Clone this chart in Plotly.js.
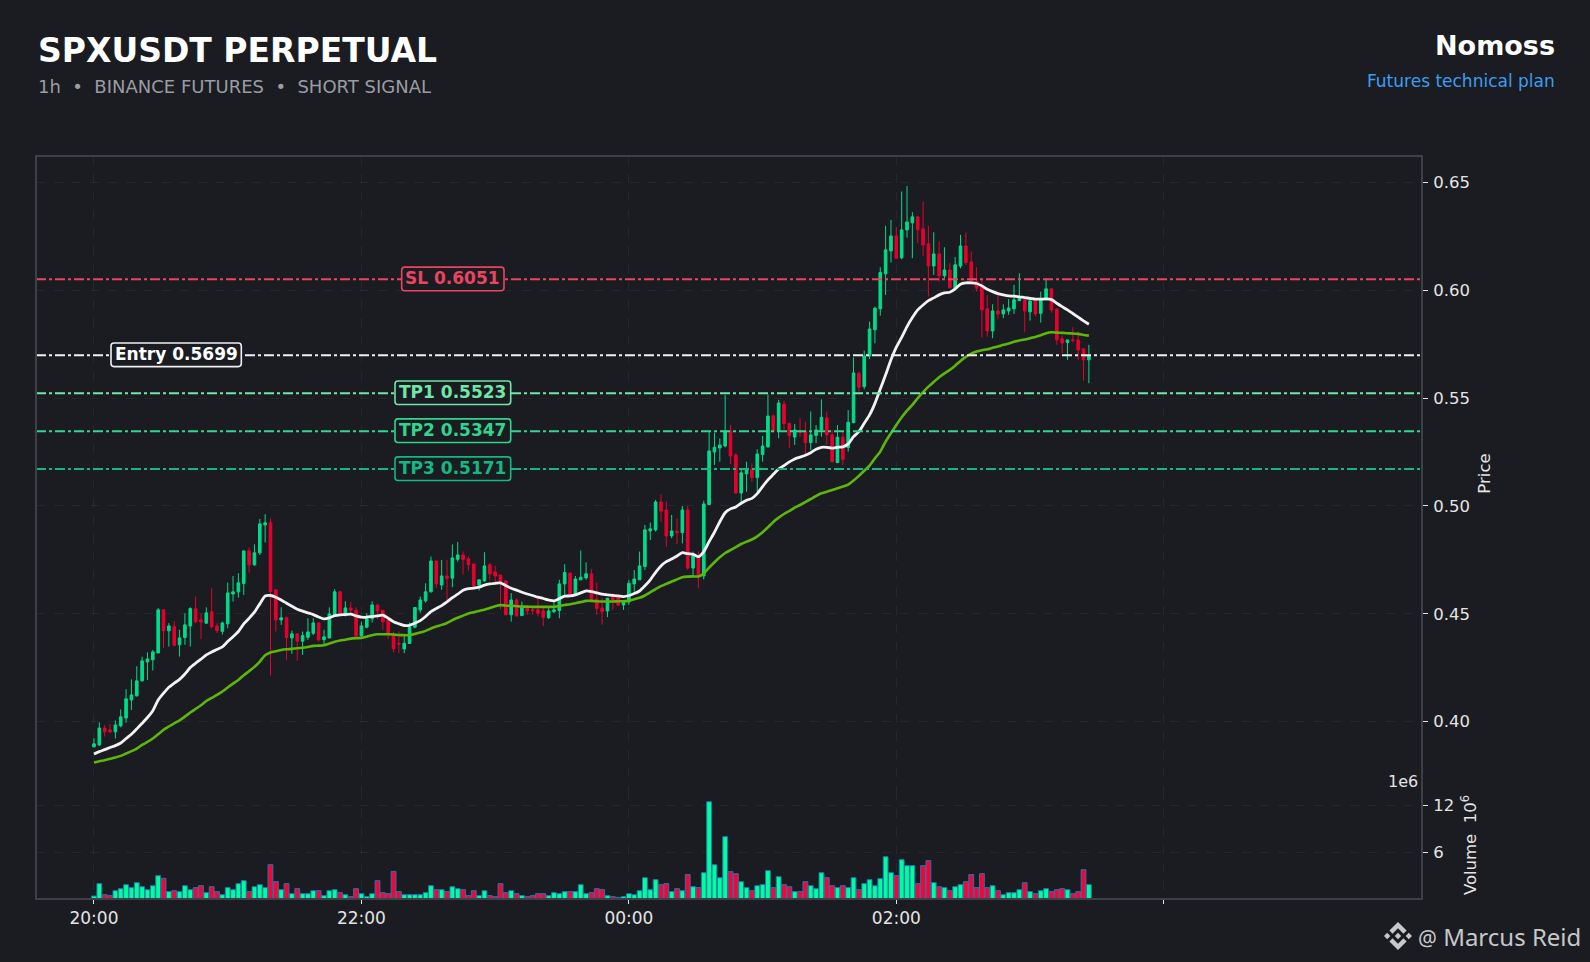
<!DOCTYPE html>
<html><head><meta charset="utf-8">
<script src="https://cdn.plot.ly/plotly-3.0.1.min.js"></script>
<style>html,body{margin:0;padding:0;background:#1a1c21}#chart{width:1590px;height:962px}</style>
</head><body><div id="chart"></div>
<script>
const startTime = Date.UTC(2025,0,1,20,0,0);
const stepSeconds = 144;
const opens = [
.3868,.3877,.3956,.3947,.3938,.3966,.4003,.4087,.4106,.4176,
.4264,.4274,.4306,.4507,.4409,.4428,.4344,.4378,.4432,.4512,
.4460,.4445,.4498,.4432,.4407,.4442,.4581,.4591,.4630,.4782,
.4717,.4773,.4903,.4913,.4600,.4460,.4470,.4376,.4395,.4361,
.4379,.4398,.4446,.4368,.4376,.4484,.4591,.4488,.4516,.4505,
.4386,.4426,.4466,.4530,.4505,.4457,.4390,.4351,.4325,.4350,
.4426,.4507,.4549,.4591,.4735,.4623,.4665,.4655,.4743,.4763,
.4745,.4721,.4623,.4642,.4717,.4684,.4670,.4642,.4484,.4553,
.4480,.4519,.4507,.4507,.4502,.4470,.4499,.4504,.4628,.4679,
.4581,.4647,.4656,.4675,.4557,.4516,.4502,.4566,.4566,.4530,
.4544,.4628,.4647,.4709,.4875,.4880,.5010,.4973,.4852,.4873,
.4867,.4973,.4702,.4758,.4665,.4998,.5243,.5262,.5271,.5341,
.5229,.5052,.5141,.5161,.5124,.5231,.5267,.5411,.5341,.5467,
.5377,.5313,.5343,.5341,.5287,.5320,.5346,.5402,.5323,.5194,
.5312,.5264,.5380,.5610,.5548,.5691,.5813,.5911,.6074,.6181,
.6251,.6149,.6279,.6312,.6340,.6284,.6214,.6111,.6167,.6065,
.6092,.6009,.6111,.6204,.6130,.6038,.6012,.5911,.5808,.5901,
.5887,.5901,.5911,.5949,.5953,.5897,.5948,.5890,.5956,.6004,
.5909,.5771,.5754,.5766,.5766,.5724,.5673];
const highs = [
.3908,.3983,.3969,.3975,.3991,.4043,.4137,.4183,.4244,.4289,
.4309,.4320,.4515,.4510,.4445,.4454,.4414,.4491,.4519,.4569,
.4491,.4519,.4608,.4445,.4452,.4634,.4665,.4678,.4782,.4799,
.4813,.4931,.4953,.4934,.4603,.4519,.4476,.4410,.4395,.4406,
.4468,.4468,.4448,.4414,.4519,.4603,.4597,.4547,.4543,.4519,
.4452,.4491,.4547,.4530,.4507,.4460,.4406,.4406,.4390,.4448,
.4519,.4569,.4631,.4756,.4735,.4740,.4740,.4812,.4823,.4779,
.4756,.4721,.4647,.4776,.4725,.4712,.4670,.4642,.4585,.4561,
.4546,.4522,.4522,.4561,.4515,.4515,.4546,.4647,.4720,.4681,
.4665,.4784,.4729,.4697,.4634,.4561,.4561,.4585,.4569,.4553,
.4647,.4693,.4779,.4903,.4914,.5020,.5046,.5012,.4950,.4934,
.4992,.4992,.4779,.4779,.5016,.5338,.5334,.5307,.5509,.5369,
.5237,.5167,.5198,.5191,.5256,.5318,.5512,.5419,.5486,.5483,
.5377,.5374,.5401,.5385,.5432,.5369,.5489,.5432,.5346,.5369,
.5338,.5439,.5685,.5618,.5716,.5851,.5921,.6105,.6298,.6326,
.6292,.6458,.6484,.6362,.6340,.6411,.6298,.6268,.6225,.6198,
.6124,.6152,.6256,.6268,.6178,.6105,.6046,.5976,.5932,.5976,
.5932,.5956,.6023,.6077,.5971,.5960,.5956,.5991,.6054,.6004,
.5914,.5786,.5766,.5825,.5805,.5727,.5743];
const lows = [
.3866,.3872,.3916,.3931,.3907,.3959,.3981,.4040,.4103,.4173,
.4180,.4224,.4305,.4328,.4336,.4336,.4289,.4344,.4336,.4445,
.4370,.4442,.4421,.4398,.4392,.4421,.4546,.4564,.4577,.4681,
.4712,.4763,.4821,.4201,.4406,.4437,.4274,.4302,.4270,.4297,
.4367,.4390,.4359,.4348,.4375,.4476,.4484,.4476,.4484,.4379,
.4379,.4421,.4448,.4463,.4414,.4370,.4308,.4305,.4305,.4348,
.4421,.4494,.4541,.4588,.4608,.4600,.4546,.4613,.4732,.4672,
.4690,.4613,.4597,.4639,.4647,.4631,.4510,.4484,.4452,.4476,
.4479,.4484,.4484,.4476,.4432,.4465,.4491,.4468,.4569,.4577,
.4577,.4647,.4647,.4553,.4484,.4438,.4473,.4507,.4526,.4507,
.4530,.4592,.4647,.4693,.4833,.4872,.4918,.4802,.4841,.4813,
.4817,.4693,.4670,.4607,.4649,.4996,.5183,.5198,.5265,.5187,
.5048,.5007,.5058,.5105,.5058,.5198,.5264,.5334,.5307,.5346,
.5261,.5276,.5315,.5229,.5253,.5284,.5315,.5276,.5194,.5191,
.5183,.5245,.5377,.5525,.5536,.5676,.5750,.5879,.5976,.6127,
.6142,.6142,.6243,.6147,.6217,.6159,.5968,.6069,.6038,.6054,
.6007,.6007,.6100,.6116,.6038,.5991,.5778,.5781,.5774,.5862,
.5867,.5883,.5887,.5949,.5802,.5856,.5875,.5847,.5949,.5893,
.5743,.5704,.5673,.5754,.5673,.5576,.5564];
const closes = [
.3882,.3956,.3938,.3938,.3970,.4008,.4092,.4110,.4176,.4269,
.4278,.4311,.4507,.4410,.4432,.4342,.4376,.4437,.4513,.4451,
.4451,.4493,.4428,.4410,.4446,.4586,.4591,.4633,.4782,.4717,
.4773,.4908,.4913,.4592,.4460,.4470,.4378,.4395,.4361,.4387,
.4404,.4446,.4367,.4381,.4488,.4591,.4491,.4516,.4505,.4386,
.4432,.4468,.4530,.4502,.4451,.4398,.4325,.4348,.4351,.4426,
.4518,.4553,.4591,.4735,.4628,.4665,.4653,.4749,.4763,.4742,
.4717,.4619,.4647,.4712,.4675,.4665,.4637,.4484,.4553,.4479,
.4519,.4502,.4504,.4491,.4471,.4502,.4507,.4628,.4681,.4577,
.4651,.4659,.4675,.4557,.4513,.4499,.4561,.4553,.4529,.4544,
.4631,.4651,.4712,.4880,.4885,.5010,.4968,.4852,.4875,.4867,
.4973,.4702,.4758,.4670,.5001,.5248,.5265,.5276,.5341,.5225,
.5052,.5146,.5159,.5124,.5234,.5271,.5411,.5341,.5472,.5376,
.5320,.5346,.5334,.5287,.5323,.5346,.5405,.5323,.5198,.5312,
.5209,.5382,.5612,.5545,.5691,.5817,.5914,.6080,.6186,.6251,
.6147,.6279,.6316,.6340,.6279,.6209,.6111,.6167,.6065,.6092,
.6009,.6116,.6204,.6127,.6038,.6007,.5906,.5808,.5901,.5887,
.5906,.5915,.5953,.5960,.5901,.5948,.5887,.5953,.6004,.5906,
.5766,.5752,.5766,.5764,.5719,.5673,.5691];
const volumesM = [
.38,1.96,.55,.43,1.06,1.32,1.83,1.45,2.08,1.57,
1.19,1.70,2.98,2.64,.94,1.06,.94,1.70,1.19,1.45,
1.70,.81,1.57,.94,.55,1.45,1.19,1.96,2.34,.94,
1.57,1.83,1.45,4.38,2.21,1.19,1.96,.68,1.32,.68,
.68,1.06,1.06,.43,1.06,1.19,.81,.55,.30,1.32,
.68,.30,.68,2.34,.81,.68,3.53,.94,.55,.55,
.55,.55,.81,1.70,1.19,1.19,.94,1.57,1.32,1.19,
.43,1.06,.43,1.06,.43,.30,1.96,.81,1.06,.68,
.43,.30,.43,.68,.68,.43,.81,.68,.94,.94,
.94,1.83,.68,.81,1.32,1.19,.43,.30,.21,.30,
.68,.55,1.06,2.72,1.19,2.47,1.83,1.96,.94,1.32,
1.06,3.11,1.57,1.45,3.36,12.42,4.38,2.72,7.96,3.49,
3.23,2.21,1.45,1.06,1.70,1.83,3.62,1.45,2.85,1.83,
1.57,.94,.94,2.21,1.70,1.32,3.36,2.72,1.70,1.45,
1.70,1.45,2.72,1.19,1.96,2.47,1.70,2.60,5.40,3.36,
2.98,5.02,4.26,4.26,1.96,4.26,4.89,2.08,1.57,1.45,
1.06,1.57,1.83,2.21,3.11,1.45,3.23,1.45,1.70,1.06,
.55,.81,.81,1.19,2.08,.94,.68,1.06,1.32,.94,
1.19,1.32,1.19,.68,.94,3.74,1.83];
const fastMA = [
.3835,.3846,.3855,.3865,.3874,.3886,.3907,.3927,.3952,.3978,
.4005,.4037,.4087,.4118,.4146,.4165,.4183,.4208,.4238,.4258,
.4277,.4297,.4311,.4322,.4334,.4359,.4382,.4406,.4442,.4468,
.4496,.4535,.4572,.4574,.4566,.4553,.4538,.4524,.4510,.4501,
.4493,.4485,.4474,.4465,.4470,.4480,.4484,.4485,.4487,.4479,
.4473,.4473,.4477,.4479,.4482,.4468,.4452,.4442,.4434,.4435,
.4445,.4457,.4476,.4499,.4513,.4527,.4544,.4564,.4580,.4599,
.4606,.4608,.4613,.4622,.4628,.4631,.4633,.4620,.4608,.4599,
.4589,.4581,.4574,.4566,.4560,.4553,.4549,.4560,.4571,.4572,
.4577,.4586,.4595,.4592,.4586,.4580,.4577,.4575,.4572,.4569,
.4574,.4583,.4595,.4619,.4647,.4682,.4712,.4732,.4744,.4758,
.4774,.4769,.4766,.4755,.4779,.4825,.4869,.4918,.4960,.4978,
.4987,.5004,.5018,.5027,.5049,.5082,.5113,.5139,.5164,.5180,
.5197,.5211,.5219,.5228,.5240,.5256,.5265,.5265,.5261,.5265,
.5267,.5281,.5315,.5338,.5377,.5416,.5470,.5537,.5603,.5673,
.5732,.5778,.5828,.5870,.5906,.5929,.5949,.5962,.5976,.5985,
.5988,.6004,.6026,.6032,.6032,.6029,.6018,.6002,.5991,.5982,
.5976,.5971,.5970,.5967,.5963,.5960,.5956,.5956,.5957,.5954,
.5937,.5921,.5906,.5889,.5872,.5855,.5839];
const slowMA = [
.3795,.3801,.3806,.3812,.3818,.3826,.3837,.3848,.3860,.3877,
.3891,.3907,.3927,.3947,.3963,.3978,.3992,.4009,.4028,.4045,
.4062,.4082,.4096,.4110,.4126,.4145,.4163,.4180,.4202,.4221,
.4241,.4266,.4295,.4308,.4314,.4320,.4323,.4325,.4328,.4330,
.4334,.4339,.4340,.4342,.4350,.4358,.4364,.4368,.4373,.4375,
.4376,.4382,.4389,.4393,.4393,.4393,.4392,.4390,.4389,.4389,
.4395,.4401,.4409,.4420,.4429,.4437,.4446,.4459,.4470,.4480,
.4490,.4496,.4502,.4508,.4516,.4524,.4529,.4527,.4526,.4524,
.4522,.4522,.4521,.4521,.4521,.4521,.4521,.4526,.4530,.4533,
.4538,.4543,.4549,.4549,.4547,.4546,.4546,.4546,.4547,.4547,
.4550,.4557,.4563,.4574,.4589,.4604,.4618,.4628,.4639,.4649,
.4659,.4662,.4663,.4663,.4677,.4704,.4729,.4752,.4772,.4786,
.4800,.4814,.4825,.4835,.4850,.4869,.4892,.4917,.4937,.4954,
.4968,.4984,.4996,.5010,.5024,.5038,.5051,.5058,.5066,.5074,
.5082,.5091,.5110,.5132,.5156,.5180,.5214,.5245,.5292,.5331,
.5369,.5405,.5436,.5463,.5494,.5522,.5548,.5570,.5592,.5610,
.5626,.5646,.5668,.5687,.5702,.5712,.5718,.5722,.5729,.5735,
.5743,.5749,.5757,.5763,.5768,.5774,.5780,.5788,.5797,.5802,
.5800,.5799,.5797,.5796,.5794,.5789,.5786];
const levelNames = ['SL','Entry','TP1','TP2','TP3'];
const levelPrices = [0.6051,0.5699,0.5523,0.5347,0.5171];
const levelColors = ['#ea4560','#f0f0f0','#6ee7a8','#2fd68e','#12b981'];
const labelLeftPx = [401.7,111,395,395,395];
const labelRightPx = [504,241.3,510.7,510.7,510.7];
const xTickVals = ['2025-01-01 20:00','2025-01-01 22:00','2025-01-02 00:00','2025-01-02 02:00','2025-01-02 04:00'];
const xTickText = ['20:00','22:00','00:00','02:00',''];

// The arrays above were read against a ruler of 2144 px per price unit; the axis measures 2156.
const rescale = p => 0.65-(0.65-p)*2144/2156;
const [O,H,L,C,F,S] = [opens,highs,lows,closes,fastMA,slowMA].map(a=>a.map(rescale));

const pad = n => String(n).padStart(2,'0');
const times = opens.map((_,i)=>{const d=new Date(startTime+i*stepSeconds*1000);
  return `${d.getUTCFullYear()}-${pad(d.getUTCMonth()+1)}-${pad(d.getUTCDate())} ${pad(d.getUTCHours())}:${pad(d.getUTCMinutes())}:${pad(d.getUTCSeconds())}`;});
const GREEN='#00dc8a', RED='#e6002e', VG='#00ff99', VR='#ff0033', BG='#1a1c21';
const font='"DejaVu Sans", sans-serif';
const PL=36, PR=1422, PT=156, PB=899, SPLIT=791;
const px=x=>(x-PL)/(PR-PL), py=y=>(PB-y)/(PB-PT);
const priceY=p=>182.5+(0.65-p)*2156;

const traces=[
 {type:'bar',x:times,y:volumesM,xaxis:'x',yaxis:'y2',name:'Volume',
  marker:{color:opens.map((o,i)=>closes[i]>=o?VG:VR),line:{color:'#1f77b4',width:1}},showlegend:false},
 {type:'candlestick',x:times,open:O,high:H,low:L,close:C,xaxis:'x',yaxis:'y',name:'Price',
  increasing:{line:{color:GREEN,width:1},fillcolor:GREEN},decreasing:{line:{color:RED,width:1},fillcolor:RED},showlegend:false},
 {type:'scatter',mode:'lines',x:times,y:S,xaxis:'x',yaxis:'y',name:'MA slow',line:{color:'#5fb60a',width:2.6,shape:'spline',smoothing:0.6},showlegend:false},
 {type:'scatter',mode:'lines',x:times,y:F,xaxis:'x',yaxis:'y',name:'MA fast',line:{color:'#f2f2f2',width:2.8,shape:'spline',smoothing:0.6},showlegend:false}
];
const shapes=levelPrices.map((p,i)=>({type:'line',xref:'paper',x0:0,x1:1,yref:'y',y0:p,y1:p,layer:'above',line:{color:levelColors[i],width:2,dash:'10px,3px,3px,3px'}}));
shapes.push({type:'rect',xref:'paper',yref:'paper',x0:0,x1:1,y0:0,y1:1,layer:'above',line:{color:'#3d4047',width:2},fillcolor:'rgba(0,0,0,0)'});
const roundBox=(l,r,t,b,c)=>{const R=3,X=px,Y=py;
  const d=`M${X(l+R)},${Y(t)} L${X(r-R)},${Y(t)} Q${X(r)},${Y(t)} ${X(r)},${Y(t+R)} L${X(r)},${Y(b-R)} Q${X(r)},${Y(b)} ${X(r-R)},${Y(b)} L${X(l+R)},${Y(b)} Q${X(l)},${Y(b)} ${X(l)},${Y(b-R)} L${X(l)},${Y(t+R)} Q${X(l)},${Y(t)} ${X(l+R)},${Y(t)} Z`;
  return {type:'path',xref:'paper',yref:'paper',path:d,layer:'above',fillcolor:BG,line:{color:c,width:1.6}};};
const annotations=[];
levelPrices.forEach((p,i)=>{
  const yc=priceY(p)-0.4;
  shapes.push(roundBox(labelLeftPx[i],labelRightPx[i],yc-11.8,yc+11.8,levelColors[i]));
  annotations.push({xref:'paper',yref:'paper',x:px((labelLeftPx[i]+labelRightPx[i])/2),y:py(yc-1),showarrow:false,xanchor:'center',yanchor:'middle',
    text:`<b>${levelNames[i]} ${p.toFixed(4)}</b>`,font:{family:font,size:17,color:i==1?'#ffffff':levelColors[i]}});
});
const paperText=(text,x,y,size,color,xanchor,bold)=>({xref:'paper',yref:'paper',x:px(x),y:py(y),showarrow:false,xanchor,yanchor:'middle',text:bold?`<b>${text}</b>`:text,font:{family:font,size,color}});
annotations.push(
 paperText('1h  •  BINANCE FUTURES  •  SHORT SIGNAL',36,86.5,18,'#9a9da3','left'),
 paperText('Nomoss',1557,46,27,'#ffffff','right',true),
 paperText('Futures technical plan',1557,80.5,17,'#3d9df2','right'),
 paperText('1e6',1419.5,781,16,'#e4e4e4','right'),
 {xref:'paper',yref:'paper',x:px(1583),y:py(936),showarrow:false,xanchor:'right',yanchor:'middle',text:'<span style="font-size:21px">@</span> Marcus Reid',font:{family:'"Noto Sans", sans-serif',size:24,color:'#c6c8ca'}}
);
const icon='data:image/svg+xml;utf8,'+encodeURIComponent('<svg xmlns="http://www.w3.org/2000/svg" viewBox="0 0 126.61 126.61"><g fill="#c6c8ca"><path d="m38.73 53.2 24.59-24.58 24.6 24.6 14.3-14.31L63.32 0 24.43 38.9z"/><path d="m0 63.31 14.3-14.31 14.31 14.31-14.31 14.3z"/><path d="M38.73 73.41 63.32 98l24.6-24.6 14.31 14.29L63.32 126.61 24.42 87.71z"/><path d="m98 63.31 14.3-14.31 14.31 14.3-14.31 14.32z"/><path d="m77.83 63.3-14.51-14.52-14.52 14.52 14.52 14.53z"/></g></svg>');
const axisCommon={showline:false,zeroline:false,griddash:'dash',gridcolor:'rgba(255,255,255,0.05)',gridwidth:1,
  ticks:'outside',ticklen:5,tickwidth:1,tickcolor:'#e4e4e4',tickfont:{family:font,size:16.5,color:'#e4e4e4'}};
const layout={
 width:1590,height:962,paper_bgcolor:BG,plot_bgcolor:BG,
 margin:{l:PL,r:1590-PR,t:PT,b:962-PB,autoexpand:false},
 title:{text:'<b>SPXUSDT PERPETUAL</b>',xref:'container',yref:'container',x:38/1590,xanchor:'left',y:1-50/962,yanchor:'middle',font:{family:font,size:33,color:'#ffffff'}},
 showlegend:false,bargap:0.1,hovermode:'x',
 xaxis:Object.assign({},axisCommon,{type:'date',anchor:'y2',range:['2025-01-01 19:33:59','2025-01-02 05:55:52'],tickmode:'array',tickvals:xTickVals,ticktext:xTickText,rangeslider:{visible:false},ticklen:4,tickfont:{family:font,size:17,color:'#e4e4e4'}}),
 yaxis:Object.assign({},axisCommon,{domain:[(PB-SPLIT)/(PB-PT),1],side:'right',anchor:'x',range:[0.3678,0.6623],tickmode:'array',tickvals:[0.40,0.45,0.50,0.55,0.60,0.65],ticktext:['0.40','0.45','0.50','0.55','0.60','0.65'],ticklabelstandoff:2,
   title:{text:'Price',standoff:9,font:{family:font,size:16.5,color:'#e4e4e4'}}}),
 yaxis2:Object.assign({},axisCommon,{domain:[0,(PB-SPLIT)/(PB-PT)],side:'right',anchor:'x',range:[0,13.79],tickmode:'array',tickvals:[6,12],ticktext:['6','12'],ticklabelstandoff:2,
   title:{text:'Volume  10<sup>6</sup>',standoff:11,font:{family:font,size:16.5,color:'#e4e4e4'}}}),
 shapes,annotations,
 images:[{source:icon,xref:'paper',yref:'paper',x:px(1384),y:py(922),sizex:28/(PR-PL),sizey:28/(PB-PT),xanchor:'left',yanchor:'top',layer:'above'}]
};
Plotly.newPlot('chart',traces,layout,{displayModeBar:false,responsive:false});
</script></body></html>
